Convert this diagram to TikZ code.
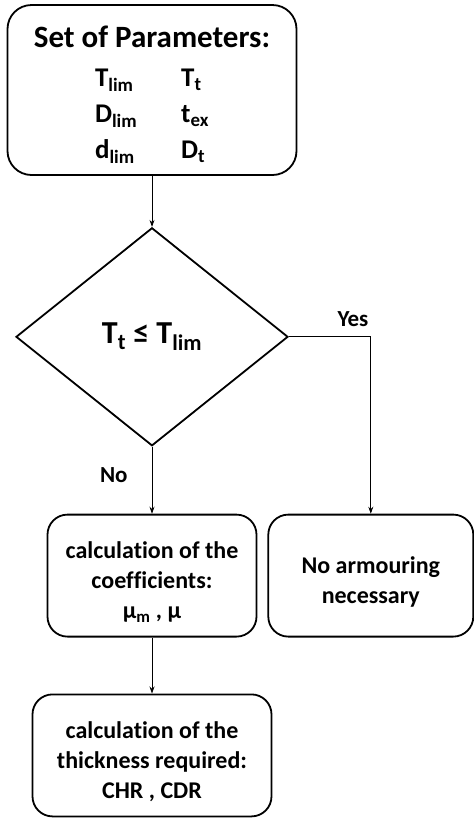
\documentclass[tikz,border=0pt]{standalone}
\usepackage{fontspec}
\setmainfont{Carlito}[Ligatures=NoCommon]
\usetikzlibrary{positioning,shapes.geometric,arrows.meta}

\newcommand{\topgap}[1]{\rule{0pt}{#1}}

\tikzset{
  parambox/.style={draw, line width=1.8pt, rounded corners=24pt, align=center,
    minimum width=289pt, minimum height=170pt, inner sep=0pt},
  stepbox/.style={draw, line width=1.8pt, rounded corners=20pt, align=center,
    minimum height=122pt, inner sep=0pt, font=\fontsize{24}{30}\selectfont\bfseries},
  decision/.style={draw, diamond, line width=1.8pt, minimum width=272pt,
    minimum height=218pt, inner sep=0pt, font=\fontsize{32}{36}\selectfont\bfseries},
  flow/.style={-{Stealth[length=7pt,width=5pt]}, line width=0.8pt},
  lbl/.style={font=\fontsize{23}{26}\selectfont\bfseries, inner sep=2pt}
}

\begin{document}
\begin{tikzpicture}[node distance=1cm]
\useasboundingbox (0pt,0pt) rectangle (474pt,-820pt);

	\node[parambox] (par) at (152pt,-90pt) {%
		{\fontsize{31}{34}\selectfont\bfseries \topgap{37pt}Set of Parameters:}\\[12pt]
		{\fontsize{27}{36}\selectfont\bfseries
		\begin{tabular}{@{}l@{\hspace{44pt}}l@{}}
			T\textsubscript{lim} & T\textsubscript{t}\\
			D\textsubscript{lim} & t\textsubscript{ex}\\
			d\textsubscript{lim} & D\textsubscript{t}
		\end{tabular}}};

	\node[decision, below=51pt of par] (check) {T\textsubscript{t} ≤ T\textsubscript{lim}};

	\node[stepbox, minimum width=209pt, below=67pt of check] (coef) {\topgap{30pt}calculation of the\\ coefficients:\\ μ\textsubscript{m} , μ};
	\node[stepbox, minimum width=205pt, right=10pt of coef] (noarm) {\topgap{30pt}No armouring\\ necessary};

	\node[stepbox, minimum width=239pt, below=56pt of coef] (thick) {\topgap{30pt}calculation of the\\ thickness required:\\ CHR , CDR};

	\draw[flow] (par) -- (check);
	\draw[flow] (check.south) -- node[lbl, pos=0.42, left=22pt] {No} (coef.north);
	\draw[flow] (check.east) -| node[lbl, pos=0.5, above left, yshift=8pt] {Yes} (noarm.north);
	\draw[flow] (coef) -- (thick);

\end{tikzpicture}
\end{document}
